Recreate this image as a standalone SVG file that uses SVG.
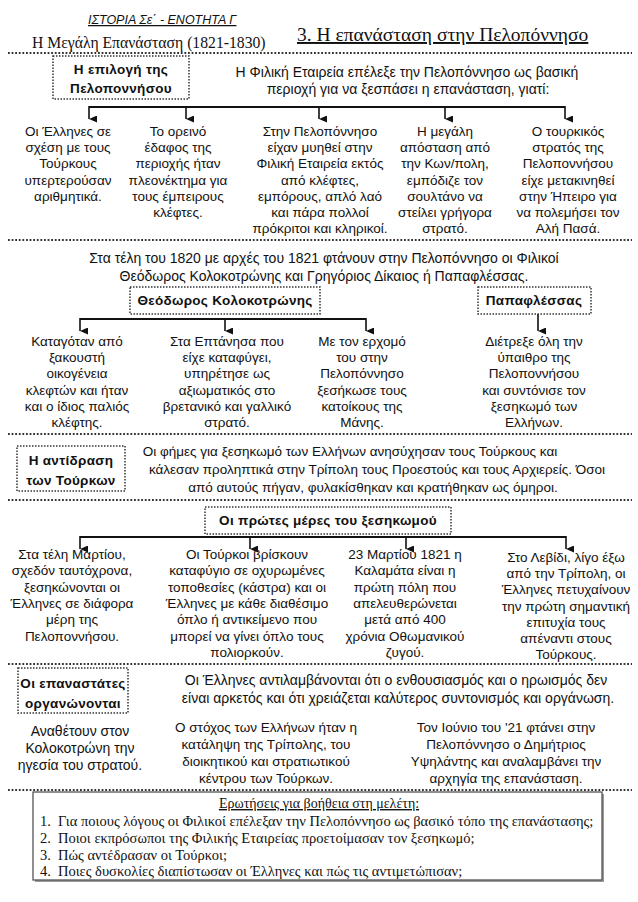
<svg xmlns="http://www.w3.org/2000/svg" width="638" height="902" viewBox="0 0 638 902">
<defs>
<marker id="ah" markerWidth="7" markerHeight="8" refX="3.5" refY="8" orient="auto" markerUnits="userSpaceOnUse" viewBox="0 0 7 8">
<path d="M0,0 L7,0 L3.5,8 Z" fill="#111"/>
</marker>
</defs>
<style>
.t{font-family:"Liberation Sans",Arial,sans-serif;font-size:13.5px;fill:#111;text-anchor:middle}
.p{font-family:"Liberation Sans",Arial,sans-serif;font-size:14px;fill:#111;text-anchor:middle}
.lb{font-family:"Liberation Sans",Arial,sans-serif;font-size:13.5px;font-weight:bold;fill:#111;text-anchor:middle;letter-spacing:0.3px}
.sr{font-family:"Liberation Serif","Times New Roman",serif;fill:#111}
.dots{stroke:#333;stroke-width:1.8;stroke-dasharray:1.8 1.8;fill:none}
.bx{stroke:#333;stroke-width:1.5;stroke-dasharray:1.5 1.5;fill:#fff}
.br{stroke:#111;stroke-width:2;fill:none}
.ar{stroke:#111;stroke-width:1.6;fill:none;marker-end:url(#ah)}
</style>
<rect width="638" height="902" fill="#fff"/>

<g id="header">
<text x="88" y="24" font-family="Liberation Sans, sans-serif" font-size="12.5" font-style="italic" fill="#111" text-decoration="underline">ΙΣΤΟΡΙΑ Σε΄  - ΕΝΟΤΗΤΑ Γ</text>
<text class="sr" x="32" y="48" font-size="15.7">Η Μεγάλη Επανάσταση (1821-1830)</text>
<text class="sr" x="297" y="41" font-size="19.5" text-decoration="underline">3. Η επανάσταση στην Πελοπόννησο</text>
</g>

<g id="separators">
<line class="dots" x1="8" y1="53" x2="632" y2="53"/>
<line class="dots" x1="8" y1="240" x2="632" y2="240"/>
<line class="dots" x1="8" y1="434" x2="632" y2="434"/>
<line class="dots" x1="8" y1="500" x2="632" y2="500"/>
<line class="dots" x1="8" y1="664" x2="632" y2="664"/>
<line class="dots" x1="8" y1="790" x2="632" y2="790"/>
</g>

<g id="connectors">
<line class="br" x1="89" y1="107" x2="565" y2="107"/>
<line class="ar" x1="89" y1="106" x2="89" y2="119"/>
<line class="ar" x1="186" y1="106" x2="186" y2="119"/>
<line class="ar" x1="319" y1="106" x2="319" y2="119"/>
<line class="ar" x1="445" y1="106" x2="445" y2="119"/>
<line class="ar" x1="565" y1="106" x2="565" y2="119"/>

<line class="br" x1="80" y1="319" x2="366" y2="319"/>
<line class="ar" x1="80" y1="318" x2="80" y2="331"/>
<line class="ar" x1="225" y1="318" x2="225" y2="331"/>
<line class="ar" x1="366" y1="318" x2="366" y2="331"/>
<line class="ar" x1="538" y1="314" x2="538" y2="331"/>

<line class="br" x1="80" y1="537" x2="566" y2="537"/>
<line class="ar" x1="80" y1="536" x2="80" y2="549"/>
<line class="ar" x1="250" y1="536" x2="250" y2="549"/>
<line class="ar" x1="406" y1="536" x2="406" y2="549"/>
<line class="ar" x1="566" y1="536" x2="566" y2="549"/>
</g>

<g id="n-epilogi">
<rect class="bx" x="53" y="56" width="136" height="43"/>
<text class="lb" x="121" y="74" font-size="14">Η επιλογή της</text>
<text class="lb" x="121" y="93" font-size="14">Πελοποννήσου</text>
</g>
<g id="n-filiki">
<text class="p" x="407" y="77" font-size="14.2">Η Φιλική Εταιρεία επέλεξε την Πελοπόννησο ως βασική</text>
<text class="p" x="408" y="94" font-size="14.2">περιοχή για να ξεσπάσει η επανάσταση, γιατί:</text>
</g>

<g id="n-r1">
<text class="t" x="68" y="136">Οι Έλληνες σε</text>
<text class="t" x="68" y="152.2">σχέση με τους</text>
<text class="t" x="68" y="168.4">Τούρκους</text>
<text class="t" x="68" y="184.6">υπερτερούσαν</text>
<text class="t" x="68" y="200.8">αριθμητικά.</text>
</g>
<g id="n-r2">
<text class="t" x="178" y="136">Το ορεινό</text>
<text class="t" x="178" y="152.2">έδαφος της</text>
<text class="t" x="178" y="168.4">περιοχής ήταν</text>
<text class="t" x="178" y="184.6">πλεονέκτημα για</text>
<text class="t" x="178" y="200.8">τους έμπειρους</text>
<text class="t" x="178" y="217">κλέφτες.</text>
</g>
<g id="n-r3">
<text class="t" x="320" y="136">Στην Πελοπόννησο</text>
<text class="t" x="320" y="152.2">είχαν μυηθεί στην</text>
<text class="t" x="320" y="168.4">Φιλική Εταιρεία εκτός</text>
<text class="t" x="320" y="184.6">από κλέφτες,</text>
<text class="t" x="320" y="200.8">εμπόρους, απλό λαό</text>
<text class="t" x="320" y="217">και πάρα πολλοί</text>
<text class="t" x="320" y="233.2">πρόκριτοι και κληρικοί.</text>
</g>
<g id="n-r4">
<text class="t" x="445" y="136">Η μεγάλη</text>
<text class="t" x="445" y="152.2">απόσταση από</text>
<text class="t" x="445" y="168.4">την Κων/πολη,</text>
<text class="t" x="445" y="184.6">εμπόδιζε τον</text>
<text class="t" x="445" y="200.8">σουλτάνο να</text>
<text class="t" x="445" y="217">στείλει γρήγορα</text>
<text class="t" x="445" y="233.2">στρατό.</text>
</g>
<g id="n-r5">
<text class="t" x="568" y="136">Ο τουρκικός</text>
<text class="t" x="568" y="152.2">στρατός της</text>
<text class="t" x="568" y="168.4">Πελοποννήσου</text>
<text class="t" x="568" y="184.6">είχε μετακινηθεί</text>
<text class="t" x="568" y="200.8">στην Ήπειρο για</text>
<text class="t" x="568" y="217">να πολεμήσει τον</text>
<text class="t" x="568" y="233.2">Αλή Πασά.</text>
</g>

<g id="n-intro">
<text class="p" x="324" y="263">Στα τέλη του 1820 με αρχές του 1821 φτάνουν στην Πελοπόννησο οι Φιλικοί</text>
<text class="p" x="324" y="281">Θεόδωρος Κολοκοτρώνης και Γρηγόριος Δίκαιος ή Παπαφλέσσας.</text>
</g>
<g id="n-kolokotronis">
<rect class="bx" x="130" y="287" width="190" height="27"/>
<text class="lb" x="225" y="305">Θεόδωρος  Κολοκοτρώνης</text>
</g>
<g id="n-papaflessas">
<rect class="bx" x="478" y="287" width="113" height="27"/>
<text class="lb" x="534" y="305">Παπαφλέσσας</text>
</g>

<g id="n-k1">
<text class="t" x="77" y="346">Καταγόταν από</text>
<text class="t" x="77" y="362.2">ξακουστή</text>
<text class="t" x="77" y="378.4">οικογένεια</text>
<text class="t" x="77" y="394.6">κλεφτών και ήταν</text>
<text class="t" x="77" y="410.8">και ο ίδιος παλιός</text>
<text class="t" x="77" y="427">κλέφτης.</text>
</g>
<g id="n-k2">
<text class="t" x="227" y="346">Στα Επτάνησα που</text>
<text class="t" x="227" y="362.2">είχε καταφύγει,</text>
<text class="t" x="227" y="378.4">υπηρέτησε ως</text>
<text class="t" x="227" y="394.6">αξιωματικός στο</text>
<text class="t" x="227" y="410.8">βρετανικό και γαλλικό</text>
<text class="t" x="227" y="427">στρατό.</text>
</g>
<g id="n-k3">
<text class="t" x="362" y="346">Με τον ερχομό</text>
<text class="t" x="362" y="362.2">του στην</text>
<text class="t" x="362" y="378.4">Πελοπόννησο</text>
<text class="t" x="362" y="394.6">ξεσήκωσε τους</text>
<text class="t" x="362" y="410.8">κατοίκους της</text>
<text class="t" x="362" y="427">Μάνης.</text>
</g>
<g id="n-p1">
<text class="t" x="534" y="346">Διέτρεξε όλη την</text>
<text class="t" x="534" y="362.2">ύπαιθρο της</text>
<text class="t" x="534" y="378.4">Πελοποννήσου</text>
<text class="t" x="534" y="394.6">και συντόνισε τον</text>
<text class="t" x="534" y="410.8">ξεσηκωμό των</text>
<text class="t" x="534" y="427">Ελλήνων.</text>
</g>

<g id="n-antidrasi">
<rect class="bx" x="17" y="446" width="108" height="45"/>
<text class="lb" x="71" y="465" font-size="14">Η αντίδραση</text>
<text class="lb" x="71" y="485" font-size="14">των Τούρκων</text>
</g>
<g id="n-antidrasi-text">
<text class="t" x="350" y="456">Οι φήμες για ξεσηκωμό των Ελλήνων ανησύχησαν τους Τούρκους και</text>
<text class="t" x="377" y="474">κάλεσαν προληπτικά στην Τρίπολη τους Προεστούς και τους Αρχιερείς.  Όσοι</text>
<text class="t" x="373" y="492">από αυτούς πήγαν, φυλακίσθηκαν και κρατήθηκαν ως όμηροι.</text>
</g>

<g id="n-protes">
<rect class="bx" x="205" y="507" width="246" height="27"/>
<text class="lb" x="328" y="525">Οι πρώτες μέρες του ξεσηκωμού</text>
</g>

<g id="n-m1">
<text class="t" x="72" y="559">Στα τέλη Μαρτίου,</text>
<text class="t" x="72" y="575.3">σχεδόν ταυτόχρονα,</text>
<text class="t" x="72" y="591.6">ξεσηκώνονται οι</text>
<text class="t" x="72" y="607.9">Έλληνες σε διάφορα</text>
<text class="t" x="72" y="624.2">μέρη της</text>
<text class="t" x="72" y="640.5">Πελοποννήσου.</text>
</g>
<g id="n-m2">
<text class="t" x="247" y="559">Οι Τούρκοι βρίσκουν</text>
<text class="t" x="247" y="575.3">καταφύγιο σε οχυρωμένες</text>
<text class="t" x="247" y="591.6">τοποθεσίες (κάστρα) και οι</text>
<text class="t" x="247" y="607.9">Έλληνες με κάθε διαθέσιμο</text>
<text class="t" x="247" y="624.2">όπλο ή αντικείμενο που</text>
<text class="t" x="247" y="640.5">μπορεί να γίνει όπλο τους</text>
<text class="t" x="247" y="656.8">πολιορκούν.</text>
</g>
<g id="n-m3">
<text class="t" x="405" y="559">23 Μαρτίου 1821 η</text>
<text class="t" x="405" y="575.3">Καλαμάτα είναι η</text>
<text class="t" x="405" y="591.6">πρώτη πόλη που</text>
<text class="t" x="405" y="607.9">απελευθερώνεται</text>
<text class="t" x="405" y="624.2">μετά από 400</text>
<text class="t" x="405" y="640.5">χρόνια Οθωμανικού</text>
<text class="t" x="405" y="656.8">ζυγού.</text>
</g>
<g id="n-m4">
<text class="t" x="566" y="562">Στο Λεβίδι, λίγο έξω</text>
<text class="t" x="566" y="578.2">από την Τρίπολη, οι</text>
<text class="t" x="566" y="594.4">Έλληνες πετυχαίνουν</text>
<text class="t" x="566" y="610.6">την πρώτη σημαντική</text>
<text class="t" x="566" y="626.8">επιτυχία τους</text>
<text class="t" x="566" y="643">απέναντι στους</text>
<text class="t" x="566" y="659.2">Τούρκους.</text>
</g>

<g id="n-organosi">
<rect class="bx" x="18" y="668" width="110" height="45"/>
<text class="lb" x="73" y="688" font-size="14">Οι επαναστάτες</text>
<text class="lb" x="73" y="708" font-size="14">οργανώνονται</text>
</g>
<g id="n-organosi-text">
<text class="p" x="396" y="685">Οι Έλληνες αντιλαμβάνονται ότι ο ενθουσιασμός και ο ηρωισμός δεν</text>
<text class="p" x="398" y="703">είναι αρκετός και ότι χρειάζεται καλύτερος συντονισμός και οργάνωση.</text>
</g>
<g id="n-o1">
<text class="p" x="80" y="736">Αναθέτουν στον</text>
<text class="p" x="80" y="753">Κολοκοτρώνη την</text>
<text class="p" x="80" y="770">ηγεσία του στρατού.</text>
</g>
<g id="n-o2">
<text class="t" x="266" y="732">Ο στόχος των Ελλήνων ήταν η</text>
<text class="t" x="266" y="749">κατάληψη της Τρίπολης, του</text>
<text class="t" x="266" y="766">διοικητικού και στρατιωτικού</text>
<text class="t" x="266" y="783">κέντρου των Τούρκων.</text>
</g>
<g id="n-o3">
<text class="t" x="506" y="732">Τον Ιούνιο του '21 φτάνει στην</text>
<text class="t" x="506" y="749">Πελοπόννησο ο Δημήτριος</text>
<text class="t" x="506" y="766">Υψηλάντης και αναλαμβάνει την</text>
<text class="t" x="506" y="783">αρχηγία της επανάσταση.</text>
</g>

<g id="n-questions">
<rect x="35" y="794" width="569" height="88" fill="#999"/>
<rect x="33" y="792" width="569" height="88" fill="#fff" stroke="#555" stroke-width="1.3"/>
<text class="sr" x="319" y="808" font-size="14" text-anchor="middle" text-decoration="underline">Ερωτήσεις για βοήθεια στη μελέτη:</text>
<text class="sr" x="40" y="826" font-size="14.5">1.</text>
<text class="sr" x="58" y="826" font-size="14.5">Για ποιους λόγους οι Φιλικοί επέλεξαν την Πελοπόννησο ως βασικό τόπο της επανάστασης;</text>
<text class="sr" x="40" y="843" font-size="14.5">2.</text>
<text class="sr" x="58" y="843" font-size="14.5">Ποιοι εκπρόσωποι της Φιλικής Εταιρείας προετοίμασαν τον ξεσηκωμό;</text>
<text class="sr" x="40" y="860" font-size="14.5">3.</text>
<text class="sr" x="58" y="860" font-size="14.5">Πώς αντέδρασαν οι Τούρκοι;</text>
<text class="sr" x="40" y="876" font-size="14.5">4.</text>
<text class="sr" x="58" y="876" font-size="14.5">Ποιες δυσκολίες διαπίστωσαν οι Έλληνες και πώς τις αντιμετώπισαν;</text>
</g>
</svg>
